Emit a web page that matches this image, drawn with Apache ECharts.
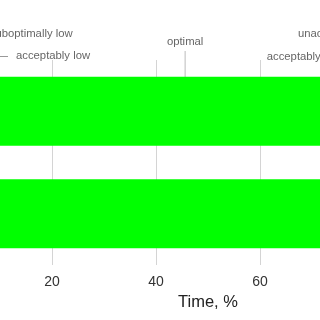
<!DOCTYPE html>
<html>
<head>
<meta charset="utf-8">
<script src="https://cdn.jsdelivr.net/npm/echarts@6/dist/echarts.min.js"></script>
<style>
  html, body { margin: 0; padding: 0; background: #fff; }
  #main { width: 320px; height: 320px; }
</style>
</head>
<body>
<div id="main"></div>
<script>
// data
var categories = ['B', 'A'];
var barValues = [100, 100];
var xTicks = [0, 20, 40, 60, 80];

// zone annotations along the top
var zoneLabels = ['suboptimally low', 'acceptably low', 'optimal', 'acceptably high', 'unacceptably high'];
var zoneValues = [16.0, 20.2, 45.6, 61.3, 67.3];
var zoneAlign = ['center', 'center', 'center', 'left', 'left'];
var zoneY = [34, 56, 42, 57, 34];
var optimalValue = 45.6;

var myChart = echarts.init(document.getElementById('main'));

var option = {
  animation: false,
  // the plot runs past the window on both sides
  grid: { left: -52, right: -44, top: 60, bottom: 55, outerBoundsMode: 'none' },
  xAxis: {
    type: 'value',
    min: xTicks[0],
    max: xTicks[xTicks.length - 1],
    interval: 20,
    name: 'Time, %',
    nameLocation: 'middle',
    nameGap: 28,
    nameTextStyle: { fontSize: 16.5, color: '#222', fontFamily: 'Liberation Sans', padding: [0, 0, 0, 104] },
    axisLine: { lineStyle: { color: '#888', width: 1 } },
    axisTick: { show: false },
    axisLabel: { fontSize: 14, color: '#333', fontFamily: 'Liberation Sans', margin: 10 },
    splitLine: { lineStyle: { color: '#d4d4d4', width: 1 } }
  },
  yAxis: {
    type: 'category',
    data: categories,
    show: false
  },
  series: [{
    type: 'bar',
    data: barValues,
    barWidth: 69,
    itemStyle: { color: '#00ff00' }
  }]
};

myChart.setOption(option);

// annotations placed through the x axis scale
var graphics = [];
zoneLabels.forEach(function (txt, i) {
  var px = myChart.convertToPixel({ xAxisIndex: 0 }, zoneValues[i]);
  graphics.push({
    type: 'text',
    x: px,
    y: zoneY[i],
    style: {
      text: txt,
      fill: '#666',
      font: '11.3px "Liberation Sans"',
      align: zoneAlign[i],
      verticalAlign: 'middle'
    }
  });
});
var ox = myChart.convertToPixel({ xAxisIndex: 0 }, optimalValue);
graphics.push({
  type: 'line',
  shape: { x1: ox, y1: 51, x2: ox, y2: 77 },
  style: { stroke: '#bbb', lineWidth: 1 }
});
graphics.push({
  type: 'line',
  shape: { x1: 0, y1: 56.5, x2: 8, y2: 56.5 },
  style: { stroke: '#999', lineWidth: 1 }
});
myChart.setOption({ graphic: graphics });
</script>
</body>
</html>
